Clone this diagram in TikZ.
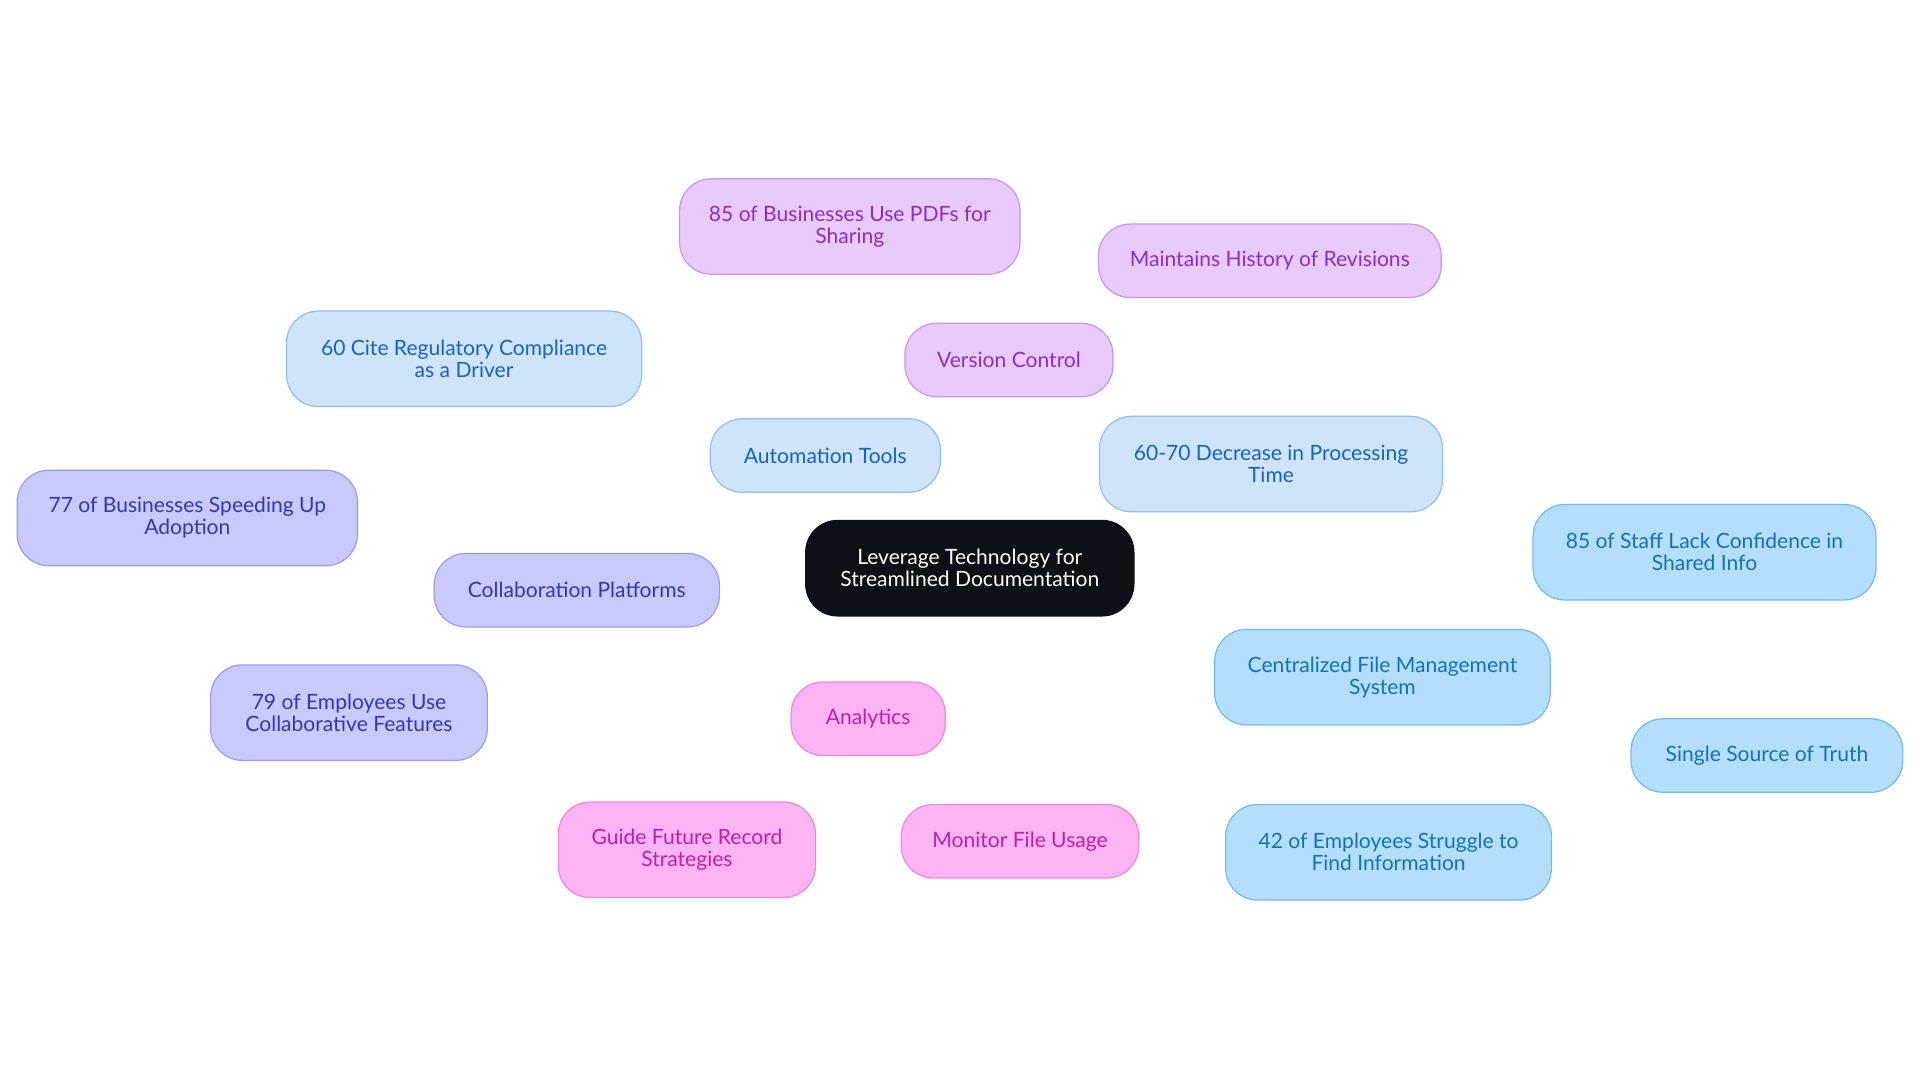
\documentclass[tikz,border=0pt]{standalone}
\usepackage{fontspec}
\setmainfont{Lato}
\usetikzlibrary{backgrounds}
\definecolor{vcf}{HTML}{E8CAFC}\definecolor{vcd}{HTML}{C995F0}\definecolor{vct}{HTML}{8A2EC8}
\definecolor{atf}{HTML}{CFE3FB}\definecolor{atd}{HTML}{94BFF0}\definecolor{att}{HTML}{1565C0}
\definecolor{clf}{HTML}{C9C9FB}\definecolor{cld}{HTML}{9D9DEF}\definecolor{clt}{HTML}{3535B5}
\definecolor{anf}{HTML}{FDB4F5}\definecolor{and}{HTML}{EE88DF}\definecolor{ant}{HTML}{C21FA8}
\definecolor{cff}{HTML}{B3DFFC}\definecolor{cfd}{HTML}{72BBEE}\definecolor{cft}{HTML}{1670B8}
\definecolor{rootf}{HTML}{0D1117}
\tikzset{
 box/.style={rounded corners=13pt, align=center, font=\fontsize{8.6}{9}\selectfont, inner sep=0pt, line width=0.5pt},
 vcbox/.style={box, fill=vcf, draw=vcd, text=vct},
 atbox/.style={box, fill=atf, draw=atd, text=att},
 clbox/.style={box, fill=clf, draw=cld, text=clt},
 anbox/.style={box, fill=anf, draw=and, text=ant},
 cfbox/.style={box, fill=cff, draw=cfd, text=cft},
 edge/.style={line width=1.2pt}
}
\begin{document}
\begin{tikzpicture}[x=0.5pt,y=-0.5pt]
\useasboundingbox[fill=white] (0,0) rectangle (1568,884);
\node[box, fill=rootf, draw=rootf, text=white, minimum width=134pt, minimum height=39pt] (root) at (792,464) {Leverage Technology for\\Streamlined Documentation};
\node[vcbox, minimum width=85pt, minimum height=30pt] (vc) at (824,294) {Version Control};
\node[vcbox, minimum width=139pt, minimum height=39pt] (vc1) at (694,185) {85 of Businesses Use PDFs for\\Sharing};
\node[vcbox, minimum width=140pt, minimum height=30pt] (vc2) at (1037,213) {Maintains History of Revisions};
\node[atbox, minimum width=94pt, minimum height=30pt] (at) at (674,372) {Automation Tools};
\node[atbox, minimum width=145pt, minimum height=39pt] (at1) at (379,293) {60 Cite Regulatory Compliance\\as a Driver};
\node[atbox, minimum width=140pt, minimum height=39pt] (at2) at (1038,379) {60-70 Decrease in Processing\\Time};
\node[clbox, minimum width=116.5pt, minimum height=30pt] (cl) at (471,482) {Collaboration Platforms};
\node[clbox, minimum width=139pt, minimum height=39pt] (cl1) at (153,423) {77 of Businesses Speeding Up\\Adoption};
\node[clbox, minimum width=113pt, minimum height=39pt] (cl2) at (285,582) {79 of Employees Use\\Collaborative Features};
\node[anbox, minimum width=63pt, minimum height=30pt] (an) at (709,587) {Analytics};
\node[anbox, minimum width=105pt, minimum height=39pt] (an1) at (561,694) {Guide Future Record\\Strategies};
\node[anbox, minimum width=97pt, minimum height=30pt] (an2) at (833,687) {Monitor File Usage};
\node[cfbox, minimum width=137pt, minimum height=39pt] (cf) at (1129,553) {Centralized File Management\\System};
\node[cfbox, minimum width=140pt, minimum height=39pt] (cf1) at (1392,451) {85 of Staff Lack Confidence in\\Shared Info};
\node[cfbox, minimum width=111pt, minimum height=30pt] (cf2) at (1443,617) {Single Source of Truth};
\node[cfbox, minimum width=133pt, minimum height=39pt] (cf3) at (1134,696) {42 of Employees Struggle to\\Find Information};
\begin{scope}[on background layer]
\draw[edge, vcd] (root) -- (vc); \draw[edge, vcd] (vc) -- (vc1); \draw[edge, vcd] (vc) -- (vc2);
\draw[edge, atd] (root) -- (at); \draw[edge, atd] (at) -- (at1); \draw[edge, atd] (at) -- (at2);
\draw[edge, cld] (root) -- (cl); \draw[edge, cld] (cl) -- (cl1); \draw[edge, cld] (cl) -- (cl2);
\draw[edge, and] (root) -- (an); \draw[edge, and] (an) -- (an1); \draw[edge, and] (an) -- (an2);
\draw[edge, cfd] (root) -- (cf); \draw[edge, cfd] (cf) -- (cf1); \draw[edge, cfd] (cf) -- (cf2); \draw[edge, cfd] (cf) -- (cf3);
\end{scope}
\end{tikzpicture}
\end{document}
